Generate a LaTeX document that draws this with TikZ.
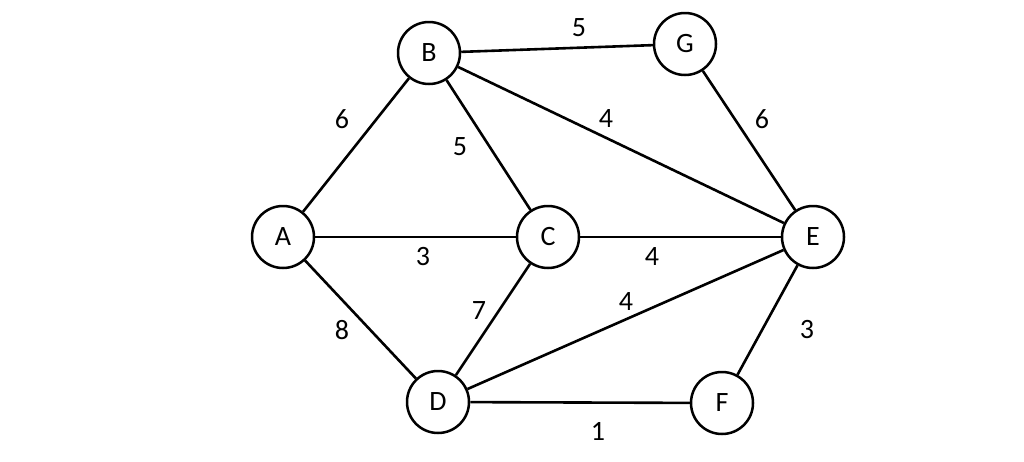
\documentclass[tikz,border=0pt]{standalone}
\usepackage{fontspec}
\setmainfont{Carlito}
\begin{document}
\begin{tikzpicture}[x=1pt,y=-1pt,
  vtx/.style={circle,draw,line width=2.5pt,minimum size=62pt,inner sep=0pt,font=\fontsize{28}{30}\selectfont},
  edge/.style={line width=2.6pt},
  wt/.style={font=\fontsize{28}{30}\selectfont,inner sep=0pt}]
\useasboundingbox (0,0) rectangle (1024,461);
\node[vtx] (A) at (283,237) {A};
\node[vtx] (B) at (429,53) {B};
\node[vtx] (G) at (685,44) {G};
\node[vtx] (C) at (548,237) {C};
\node[vtx] (E) at (813,237) {E};
\node[vtx] (D) at (438,402) {D};
\node[vtx] (F) at (722,403) {F};
\draw[edge] (A) -- (B);
\draw[edge] (A) -- (C);
\draw[edge] (A) -- (D);
\draw[edge] (B) -- (G);
\draw[edge] (B) -- (C);
\draw[edge] (B) -- (E);
\draw[edge] (G) -- (E);
\draw[edge] (C) -- (E);
\draw[edge] (C) -- (D);
\draw[edge] (D) -- (E);
\draw[edge] (D) -- (F);
\draw[edge] (E) -- (F);
\node[wt] (wAB) at (342,119) {6};
\node[wt] (wBC) at (460,147) {5};
\node[wt] (wAC) at (423,257) {3};
\node[wt] (wBG) at (579,28) {5};
\node[wt] (wBE) at (606,119) {4};
\node[wt] (wGE) at (762,119) {6};
\node[wt] (wCE) at (652,257) {4};
\node[wt] (wCD) at (479,311) {7};
\node[wt] (wAD) at (342,330) {8};
\node[wt] (wDE) at (626,302) {4};
\node[wt] (wEF) at (807,330) {3};
\node[wt] (wDF) at (598,431) {1};
\end{tikzpicture}
\end{document}
